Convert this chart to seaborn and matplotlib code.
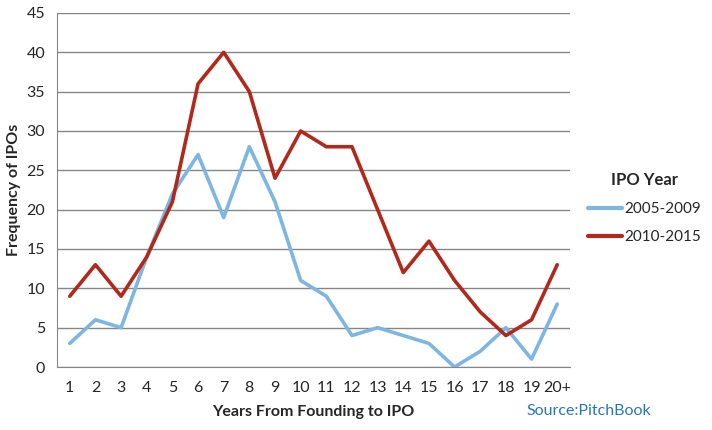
import pandas as pd
import seaborn as sns
import matplotlib.pyplot as plt
import numpy as np

# Years from founding to IPO
years = ["1", "2", "3", "4", "5", "6", "7", "8", "9", "10",
         "11", "12", "13", "14", "15", "16", "17", "18", "19", "20+"]
ipo_2005_2009 = [3, 6, 5, 14, 22, 27, 19, 28, 21, 11, 9, 4, 5, 4, 3, 0, 2, 5, 1, 8]
ipo_2010_2015 = [9, 13, 9, 14, 21, 36, 40, 35, 24, 30, 28, 28, 20, 12, 16, 11, 7, 4, 6, 13]
series = ["2005-2009", "2010-2015"]
y_ticks = [0, 5, 10, 15, 20, 25, 30, 35, 40, 45]

df = pd.DataFrame({"Years": years * 2,
                   "IPOs": ipo_2005_2009 + ipo_2010_2015,
                   "IPO Year": [series[0]] * len(years) + [series[1]] * len(years)})

sns.set_style("white")
plt.rcParams['font.family'] = ['Lato', 'DejaVu Sans']

fig = plt.figure(figsize=(7.12, 4.3), dpi=100)
ax = fig.add_axes([0.080, 0.1465, 0.7206, 0.8233])

sns.lineplot(data=df, x="Years", y="IPOs", hue="IPO Year", sort=False,
             palette=["#7DB6E3", "#B0291B"], linewidth=2.6, ax=ax)

ax.set_xlim(-0.5, len(years) - 0.5)
ax.set_ylim(0, 45)
ax.set_yticks(y_ticks)
ax.grid(axis="y", color="#868686", linewidth=1.0)
ax.set_axisbelow(True)
for s in ["top", "right"]:
    ax.spines[s].set_visible(False)
ax.spines["left"].set_color("#868686")
ax.spines["bottom"].set_color("#868686")

# tick marks between the categories, like Excel
ax.set_xticks(np.arange(-0.5, len(years), 1.0), minor=True)
ax.tick_params(axis="x", which="major", length=0, labelsize=11.5, pad=10)
ax.tick_params(axis="x", which="minor", length=5, color="#868686", direction="out")
ax.tick_params(axis="y", length=5, color="#868686", labelsize=11.5, direction="out")

ax.set_xlabel("Years From Founding to IPO", fontsize=11.5, fontweight="bold", labelpad=7)
ax.set_ylabel("Frequency of IPOs", fontsize=11.5, fontweight="bold", labelpad=4)

leg = ax.legend(title="IPO Year", loc="upper left", bbox_to_anchor=(588 / 712, 1 - 172 / 430),
                bbox_transform=fig.transFigure, borderpad=0, borderaxespad=0,
                frameon=False, fontsize=11, title_fontproperties={"weight": "bold", "size": 12},
                handlelength=2.2, labelspacing=0.95, handletextpad=0.15)
leg._legend_box.align = "center"
leg._legend_box.sep = 10
for line in leg.get_lines():
    line.set_linewidth(3)

fig.text(0.74, 0.035, "Source:PitchBook", color="#2E74B5", fontsize=11.5)

fig.savefig("out.png", dpi=100)
